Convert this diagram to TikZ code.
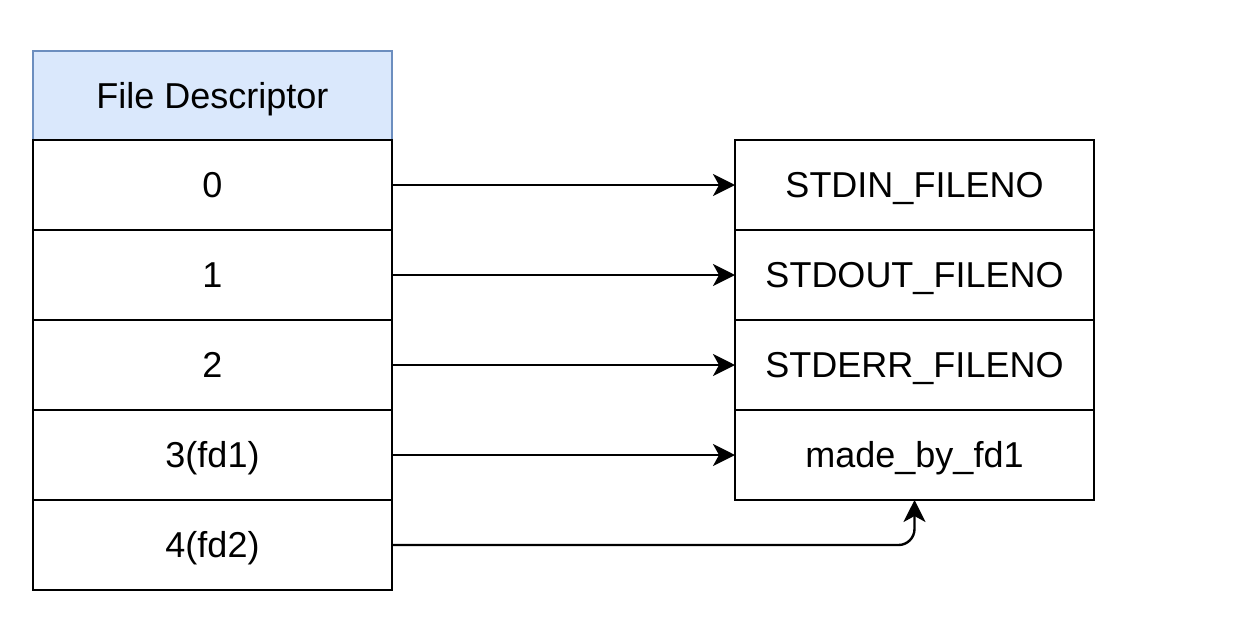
\documentclass[tikz,border=0pt]{standalone}
\usepackage{fontspec}
\setmainfont{Liberation Sans}
\usetikzlibrary{positioning, arrows.meta}
\definecolor{headfill}{HTML}{DAE8FC}
\definecolor{headline}{HTML}{6C8EBF}
\tikzset{
    every node/.style={font=\fontsize{18}{22}\selectfont, text height=12.9pt, text depth=0pt},
    fdhead/.style={draw=headline, fill=headfill, line width=1.2pt, minimum width=179.5pt, minimum height=44.5pt, inner sep=0pt, outer sep=0pt},
    fdcell/.style={draw, line width=1.2pt, minimum width=179.5pt, minimum height=45pt, inner sep=0pt, outer sep=0pt},
    arrow/.style={-{Stealth[length=11pt, width=11pt, inset=3pt]}, line width=1.2pt},
}

\begin{document}
\begin{tikzpicture}[x=0.5pt, y=-0.5pt]
  \useasboundingbox (0,0) rectangle (1236,638);
  % left table
  \node[fdhead] (head) at (212.5,95.5) {File Descriptor};
  \node[fdcell, below=0pt of head] (fd0) {0};
  \node[fdcell, below=0pt of fd0] (fd1) {1};
  \node[fdcell, below=0pt of fd1] (fd2) {2};
  \node[fdcell, below=0pt of fd2] (fd3) {3(fd1)};
  \node[fdcell, below=0pt of fd3] (fd4) {4(fd2)};
  % right table
  \node[fdcell, right=171.5pt of fd0] (in) {STDIN\_FILENO};
  \node[fdcell, below=0pt of in] (out) {STDOUT\_FILENO};
  \node[fdcell, below=0pt of out] (err) {STDERR\_FILENO};
  \node[fdcell, below=0pt of err] (made) {made\_by\_fd1};
  % arrows
  \draw[arrow] (fd0) -- (in);
  \draw[arrow] (fd1) -- (out);
  \draw[arrow] (fd2) -- (err);
  \draw[arrow] (fd3) -- (made);
  \draw[arrow, rounded corners=8pt] (fd4.east) -| (made.south);
\end{tikzpicture}
\end{document}
